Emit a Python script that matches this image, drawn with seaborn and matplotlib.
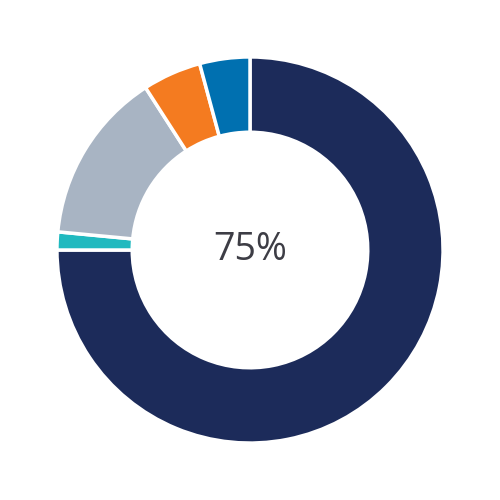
import matplotlib
matplotlib.use("Agg")
import matplotlib.pyplot as plt
import seaborn as sns

sns.set_theme(style="white")
plt.rcParams['font.family'] = ['Open Sans', 'DejaVu Sans']

# shares in percent, clockwise from 12 o'clock
labels = ["Navy", "Teal", "Gray", "Orange", "Blue"]
shares = [75, 1.5, 14.4, 4.9, 4.2]
colors = ["#1c2b5a", "#20b9bf", "#a8b4c3", "#f47b20", "#0070b0"]
center_label = "75%"

fig = plt.figure(figsize=(5, 5), dpi=100)
ax = fig.add_axes([0, 0, 1, 1])
ax.pie(shares, colors=colors, startangle=90, counterclock=False,
       wedgeprops=dict(width=0.39, edgecolor="white", linewidth=2.5))
ax.text(0, 0, center_label, ha="center", va="center", fontsize=27, color="#3d3d45")
ax.set_xlim(-1.295, 1.295)
ax.set_ylim(-1.295, 1.295)
ax.set_aspect("equal")
ax.axis("off")
fig.savefig("out.png", dpi=100, facecolor="white")
